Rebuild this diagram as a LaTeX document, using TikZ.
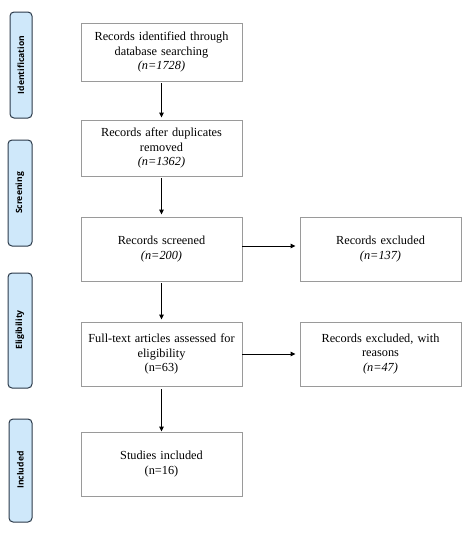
\documentclass[tikz,border=0pt]{standalone}
\usepackage{fontspec}
\setmainfont{Liberation Serif}
\newfontfamily\sidefont{Open Sans}
\usetikzlibrary{arrows.meta}
\definecolor{sidefill}{HTML}{CFE8FA}
\definecolor{sideline}{HTML}{2B3A4A}
\definecolor{boxline}{HTML}{9A9A9A}
\begin{document}
\begin{tikzpicture}[x=1pt,y=-1pt,
  flowbox/.style={draw=boxline,line width=0.9pt,fill=white,minimum width=161pt,inner sep=2pt,align=center,font=\fontsize{12.3}{14.4}\selectfont,text width=157pt},
  sidebar/.style={draw=sideline,line width=1pt,fill=sidefill,rounded corners=4pt},
  sidelabel/.style={rotate=90,font=\sidefont\bfseries\fontsize{8.6}{9}\selectfont,text=black},
  flowarrow/.style={-{Triangle[length=5pt,width=4.5pt]},line width=0.9pt,black}]
\useasboundingbox (0,0) rectangle (474,552);
% side bars
\draw[sidebar] (10,12) rectangle (32,118);
\node[sidelabel] (lid) at (21,65) {Identification};
\draw[sidebar] (8,140) rectangle (32,246);
\node[sidelabel] (lsc) at (20,193) {Screening};
\draw[sidebar] (8,273) rectangle (32,388);
\node[sidelabel] (lel) at (20,330) {Eligibility};
\draw[sidebar] (9,419) rectangle (32,522);
\node[sidelabel] (lin) at (20.5,470) {Included};
% boxes
\node[flowbox,minimum height=58pt] (b1) at (161.5,52) {Records identified through\\database searching\\\textit{(n=1728)}};
\node[flowbox,minimum height=56pt] (b2) at (161.5,148) {Records after duplicates\\removed\\\textit{(n=1362)}};
\node[flowbox,minimum height=64pt] (b3) at (161.5,249) {Records screened\\\textit{(n=200)}};
\node[flowbox,minimum height=64pt] (r1) at (380.5,249) {Records excluded\\\textit{(n=137)}};
\node[flowbox,minimum height=64pt] (b4) at (161.5,354) {Full-text articles assessed for\\eligibility\\(n=63)};
\node[flowbox,minimum height=64pt] (r2) at (380.5,354) {Records excluded, with\\reasons\\\textit{(n=47)}};
\node[flowbox,minimum height=64pt] (b5) at (161.5,464) {Studies included\\(n=16)};
% arrows
\draw[flowarrow] ([yshift=-2pt]b1.south) -- ([yshift=2pt]b2.north);
\draw[flowarrow] ([yshift=-2pt]b2.south) -- ([yshift=2pt]b3.north);
\draw[flowarrow] ([yshift=-2pt]b3.south) -- ([yshift=2pt]b4.north);
\draw[flowarrow] ([yshift=-3pt]b4.south) -- (b5.north);
\draw[flowarrow] ([yshift=3pt]b3.east) -- ([xshift=-4pt,yshift=3pt]r1.west);
\draw[flowarrow] (b4.east) -- ([xshift=-4pt]r2.west);
\end{tikzpicture}
\end{document}
